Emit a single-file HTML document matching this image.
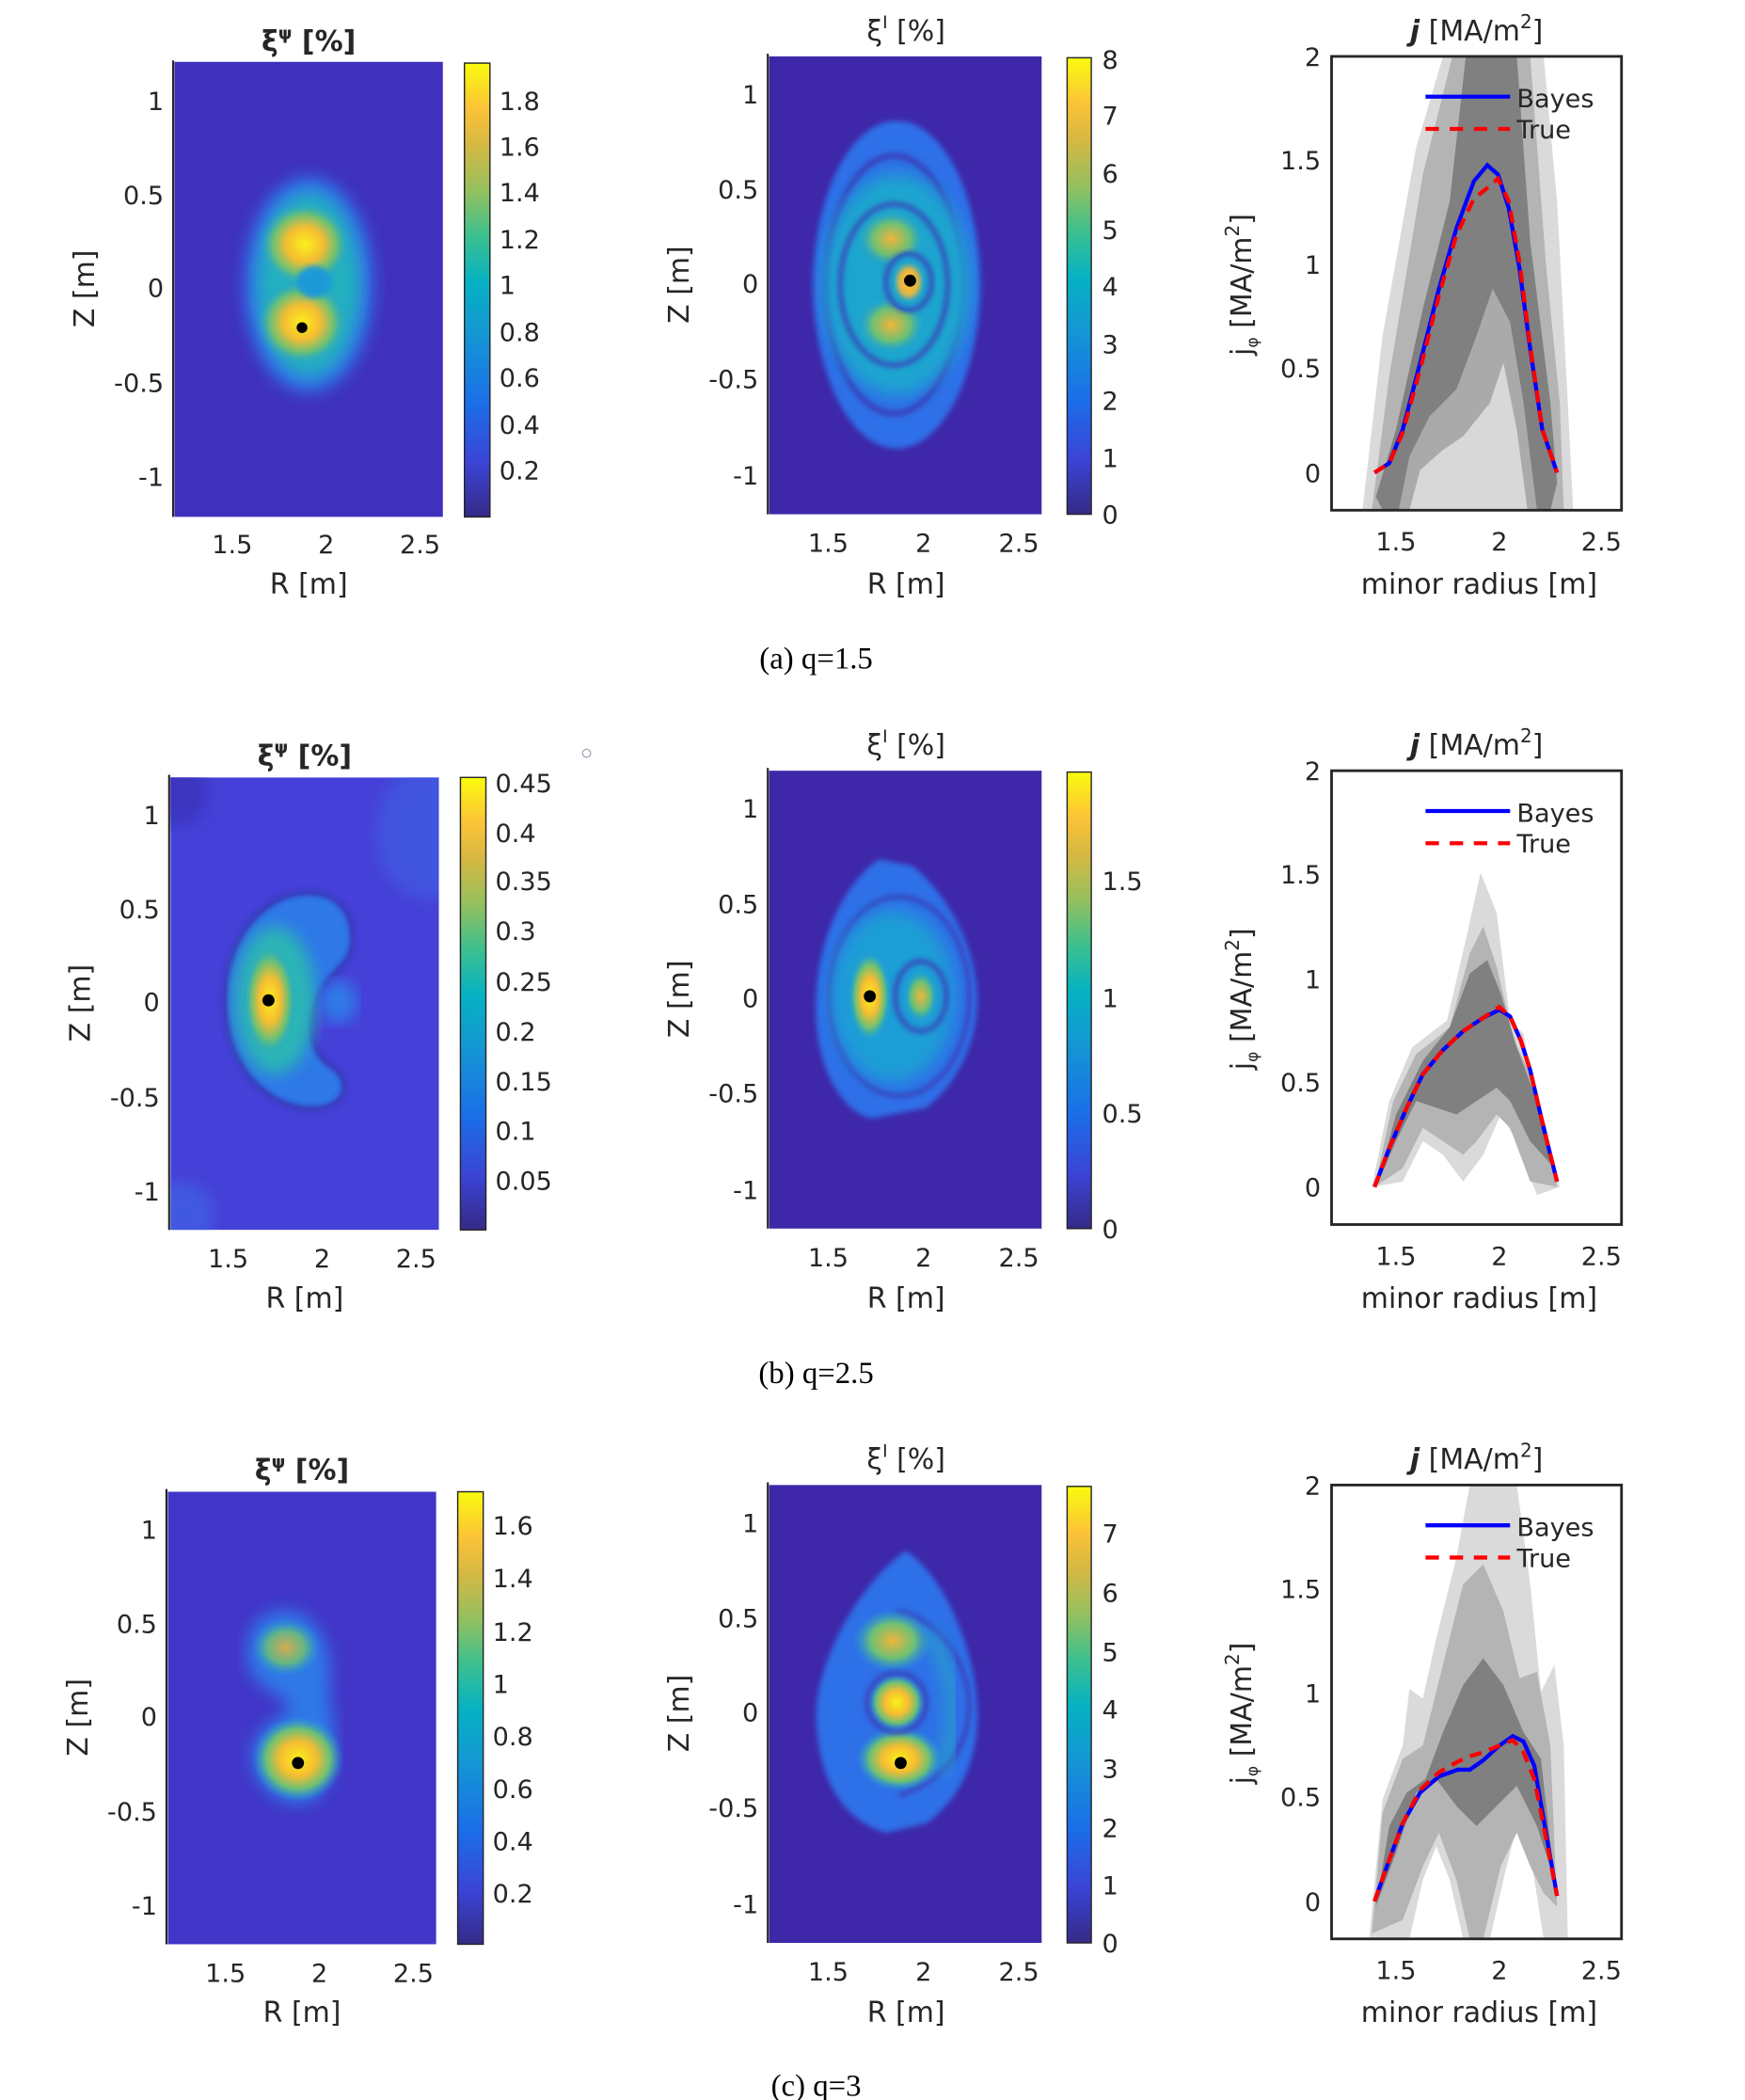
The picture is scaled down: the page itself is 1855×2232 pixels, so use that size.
<!DOCTYPE html>
<html><head><meta charset="utf-8"><style>
html,body{margin:0;padding:0;background:#fff;}
svg{display:block;}
text{font-family:"DejaVu Sans","Liberation Sans",sans-serif;fill:#262626;}
.t{font-size:19px;}
.lab{font-size:21px;}
.cap{font-family:"Liberation Serif",serif;font-size:23px;fill:#000;}
</style></head><body>
<svg width="1855" height="2232" viewBox="0 0 1300 1564" preserveAspectRatio="none" xmlns="http://www.w3.org/2000/svg">
<defs>
<linearGradient id="parula" x1="0" y1="1" x2="0" y2="0">
<stop offset="0" stop-color="#352a87"/><stop offset="0.12" stop-color="#3b44d6"/>
<stop offset="0.25" stop-color="#1b6ee8"/><stop offset="0.4" stop-color="#1496d4"/>
<stop offset="0.52" stop-color="#06b2c2"/><stop offset="0.62" stop-color="#3cc08e"/>
<stop offset="0.72" stop-color="#95c05e"/><stop offset="0.82" stop-color="#d6b842"/>
<stop offset="0.9" stop-color="#fcc337"/><stop offset="1" stop-color="#f9fb0e"/>
</linearGradient>
<radialGradient id="hot"><stop offset="0" stop-color="#f9f01a"/><stop offset="0.4" stop-color="#f5bd32"/><stop offset="0.7" stop-color="#6cc075"/><stop offset="1" stop-color="#1aa0d8" stop-opacity="0"/></radialGradient>
<radialGradient id="warm"><stop offset="0" stop-color="#f0b53a"/><stop offset="0.55" stop-color="#6cc075"/><stop offset="1" stop-color="#1a9ed6" stop-opacity="0"/></radialGradient>
<filter id="b2"><feGaussianBlur stdDeviation="2"/></filter>
<filter id="b6"><feGaussianBlur stdDeviation="6"/></filter>
<clipPath id="ca"><rect x="130" y="46" width="200" height="339"/></clipPath>
<clipPath id="cb"><rect x="127" y="579" width="200" height="337"/></clipPath>
<clipPath id="cc"><rect x="125" y="1111" width="200" height="337"/></clipPath>
</defs>

<!-- ========== ROW A ========== -->
<g>
<g clip-path="url(#ca)">
<rect x="130" y="46" width="200" height="339" fill="#3f31be"/>
<ellipse cx="230" cy="212" rx="48" ry="80" fill="#2f78e8" filter="url(#b6)"/>
<ellipse cx="230" cy="212" rx="38" ry="68" fill="#21b0bf" filter="url(#b6)"/>
<ellipse cx="227" cy="182" rx="34" ry="32" fill="url(#hot)"/>
<ellipse cx="225" cy="240" rx="34" ry="32" fill="url(#hot)"/>
<ellipse cx="234" cy="210" rx="13" ry="12" fill="#1f9ad8" filter="url(#b2)"/>
</g>
<circle cx="225" cy="244" r="4" fill="#000"/>
<line x1="129" y1="45" x2="129" y2="385" stroke="#262626" stroke-width="1.5"/>
<text x="230" y="38" text-anchor="middle" class="lab" style="font-weight:bold">ξ<tspan font-size="13" dy="-9">ψ</tspan><tspan dy="9"> [%]</tspan></text>
<g class="t" text-anchor="end"><text x="122" y="82">1</text><text x="122" y="152">0.5</text><text x="122" y="221">0</text><text x="122" y="292">-0.5</text><text x="122" y="362">-1</text></g>
<g class="t" text-anchor="middle"><text x="173" y="412">1.5</text><text x="243" y="412">2</text><text x="313" y="412">2.5</text></g>
<text x="230" y="442" text-anchor="middle" class="lab">R [m]</text>
<text transform="translate(70,215) rotate(-90)" text-anchor="middle" class="lab">Z [m]</text>
<rect x="346" y="47" width="19" height="338" fill="url(#parula)" stroke="#262626" stroke-width="1"/>
<g class="t"><text x="372" y="82">1.8</text><text x="372" y="116">1.6</text><text x="372" y="150">1.4</text><text x="372" y="185">1.2</text><text x="372" y="219">1</text><text x="372" y="254">0.8</text><text x="372" y="288">0.6</text><text x="372" y="323">0.4</text><text x="372" y="357">0.2</text></g>

<rect x="573" y="42" width="203" height="341" fill="#3e27a8"/>
<ellipse cx="668" cy="212" rx="62" ry="122" fill="#2e6fe8" filter="url(#b2)"/>
<ellipse cx="666" cy="212" rx="50" ry="96" fill="none" stroke="#3a3ab5" stroke-width="4" filter="url(#b2)"/>
<ellipse cx="668" cy="212" rx="55" ry="82" fill="#1ba5cf" filter="url(#b6)"/>
<ellipse cx="666" cy="212" rx="40" ry="60" fill="none" stroke="#3a3ab5" stroke-width="3" filter="url(#b2)"/>
<ellipse cx="664" cy="178" rx="26" ry="22" fill="url(#warm)"/>
<ellipse cx="664" cy="242" rx="26" ry="22" fill="url(#warm)"/>
<ellipse cx="677" cy="210" rx="18" ry="22" fill="#1ba5cf"/>
<ellipse cx="677" cy="210" rx="17" ry="21" fill="none" stroke="#3a3ab5" stroke-width="3" filter="url(#b2)"/>
<ellipse cx="677" cy="210" rx="9" ry="12" fill="#f2b83a" filter="url(#b2)"/>
<circle cx="678" cy="209" r="4.5" fill="#000"/>
<line x1="572" y1="40" x2="572" y2="383" stroke="#262626" stroke-width="1.5"/>
<text x="675" y="30" text-anchor="middle" class="lab">ξ<tspan font-size="13" dy="-9">I</tspan><tspan dy="9"> [%]</tspan></text>
<g class="t" text-anchor="end"><text x="565" y="77">1</text><text x="565" y="148">0.5</text><text x="565" y="218">0</text><text x="565" y="289">-0.5</text><text x="565" y="361">-1</text></g>
<g class="t" text-anchor="middle"><text x="617" y="411">1.5</text><text x="688" y="411">2</text><text x="759" y="411">2.5</text></g>
<text x="675" y="442" text-anchor="middle" class="lab">R [m]</text>
<text transform="translate(513,212) rotate(-90)" text-anchor="middle" class="lab">Z [m]</text>
<rect x="795" y="43" width="18" height="340" fill="url(#parula)" stroke="#262626" stroke-width="1"/>
<g class="t" font-size="17"><text x="821" y="51">8</text><text x="821" y="93">7</text><text x="821" y="136">6</text><text x="821" y="178">5</text><text x="821" y="220">4</text><text x="821" y="263">3</text><text x="821" y="305">2</text><text x="821" y="348">1</text><text x="821" y="390">0</text></g>

<polygon points="1015,380 1030,250 1055,110 1075,42 1150,42 1160,150 1168,300 1172,380" fill="#dadada"/>
<polygon points="1022,380 1035,280 1060,130 1082,42 1140,42 1152,200 1162,300 1165,380" fill="#b4b4b4"/>
<polygon points="1025,370 1040,320 1060,230 1080,150 1092,42 1130,42 1140,180 1155,300 1160,360 1155,380 1030,380" fill="#808080"/>
<polygon points="1042,380 1050,340 1065,310 1085,290 1100,250 1112,215 1125,240 1135,300 1145,380" fill="#aaaaaa"/>
<polygon points="1050,380 1058,350 1075,335 1090,325 1110,300 1120,270 1130,320 1138,380" fill="#d8d8d8"/>
<polyline points="1024,352 1035,345 1045,320 1058,270 1072,215 1085,170 1098,135 1108,123 1116,130 1124,155 1132,200 1140,260 1149,320 1160,352" fill="none" stroke="#0000ff" stroke-width="3"/>
<polyline points="1024,352 1035,345 1045,322 1058,275 1072,220 1085,175 1098,148 1108,140 1116,133 1124,150 1132,195 1140,258 1149,320 1160,352" fill="none" stroke="#ff0000" stroke-width="3" stroke-dasharray="9,6"/>
<rect x="992" y="42" width="216" height="338" fill="none" stroke="#262626" stroke-width="2"/>
<line x1="1062" y1="72" x2="1125" y2="72" stroke="#0000ff" stroke-width="3"/>
<line x1="1062" y1="96" x2="1125" y2="96" stroke="#ff0000" stroke-width="3" stroke-dasharray="10,8"/>
<text x="1130" y="80" class="t" font-size="17">Bayes</text><text x="1130" y="103" class="t" font-size="17">True</text>
<g class="t" text-anchor="end"><text x="984" y="49">2</text><text x="984" y="126">1.5</text><text x="984" y="204">1</text><text x="984" y="281">0.5</text><text x="984" y="359">0</text></g>
<g class="t" text-anchor="middle"><text x="1040" y="410">1.5</text><text x="1117" y="410">2</text><text x="1193" y="410">2.5</text></g>
<text x="1102" y="442" text-anchor="middle" class="lab">minor radius [m]</text>
<text x="1100" y="30" text-anchor="middle" class="lab"><tspan font-weight="bold" font-style="italic">j</tspan> [MA/m<tspan font-size="14" dy="-9">2</tspan><tspan dy="9">]</tspan></text>
<text transform="translate(932,212) rotate(-90)" text-anchor="middle" class="lab">j<tspan font-size="12" dy="5">φ</tspan><tspan dy="-5"> [MA/m</tspan><tspan font-size="14" dy="-9">2</tspan><tspan dy="9">]</tspan></text>
<text x="608" y="498" text-anchor="middle" class="cap">(a) q=1.5</text>
</g>

<!-- ========== ROW B ========== -->
<g>
<g clip-path="url(#cb)">
<rect x="127" y="579" width="200" height="337" fill="#4540d8"/>
<ellipse cx="130" cy="590" rx="25" ry="25" fill="#3a35c0" filter="url(#b6)"/>
<ellipse cx="320" cy="620" rx="40" ry="50" fill="#3f6ae6" opacity="0.5" filter="url(#b6)"/>
<ellipse cx="135" cy="905" rx="25" ry="25" fill="#3f6ae6" opacity="0.6" filter="url(#b6)"/>
<path d="M230,665 C190,665 165,710 168,750 C170,800 205,830 240,825 C258,822 262,805 248,795 C232,785 228,765 235,748 C240,728 260,720 262,705 C265,685 255,665 230,665 Z" fill="#2f78e8" filter="url(#b2)"/>
<path d="M230,665 C190,665 165,710 168,750 C170,800 205,830 240,825 C258,822 262,805 248,795 C232,785 228,765 235,748 C240,728 260,720 262,705 C265,685 255,665 230,665 Z" fill="none" stroke="#3528a0" stroke-width="2.5" filter="url(#b2)"/>
<ellipse cx="205" cy="745" rx="30" ry="55" fill="#29b5b5" filter="url(#b6)"/>
<ellipse cx="201" cy="745" rx="20" ry="42" fill="url(#hot)"/>
<ellipse cx="252" cy="746" rx="14" ry="16" fill="#2e7be8" filter="url(#b6)"/>
</g>
<circle cx="200" cy="745" r="4.5" fill="#000"/>
<line x1="126" y1="577" x2="126" y2="916" stroke="#262626" stroke-width="1.5"/>
<text x="227" y="570" text-anchor="middle" class="lab" style="font-weight:bold">ξ<tspan font-size="13" dy="-9">ψ</tspan><tspan dy="9"> [%]</tspan></text>
<circle cx="437" cy="561" r="3" fill="none" stroke="#aab" stroke-width="1"/>
<g class="t" text-anchor="end"><text x="119" y="614">1</text><text x="119" y="684">0.5</text><text x="119" y="753">0</text><text x="119" y="824">-0.5</text><text x="119" y="894">-1</text></g>
<g class="t" text-anchor="middle"><text x="170" y="944">1.5</text><text x="240" y="944">2</text><text x="310" y="944">2.5</text></g>
<text x="227" y="974" text-anchor="middle" class="lab">R [m]</text>
<text transform="translate(67,747) rotate(-90)" text-anchor="middle" class="lab">Z [m]</text>
<rect x="343" y="579" width="19" height="337" fill="url(#parula)" stroke="#262626" stroke-width="1"/>
<g class="t"><text x="369" y="590">0.45</text><text x="369" y="627">0.4</text><text x="369" y="663">0.35</text><text x="369" y="700">0.3</text><text x="369" y="738">0.25</text><text x="369" y="775">0.2</text><text x="369" y="812">0.15</text><text x="369" y="849">0.1</text><text x="369" y="886">0.05</text></g>

<rect x="573" y="574" width="203" height="341" fill="#3e27a8"/>
<path d="M655,640 C625,660 605,710 608,760 C610,800 630,830 650,833 L690,825 C715,805 728,775 728,745 C728,710 710,670 680,645 Z" fill="#2e6fe8" filter="url(#b2)"/>
<ellipse cx="670" cy="742" rx="52" ry="74" fill="none" stroke="#3a3ab5" stroke-width="3" filter="url(#b2)"/>
<ellipse cx="665" cy="742" rx="46" ry="64" fill="#1f9ed6" filter="url(#b6)"/>
<ellipse cx="648" cy="742" rx="16" ry="34" fill="url(#hot)"/>
<ellipse cx="686" cy="742" rx="19" ry="26" fill="none" stroke="#3a3ab5" stroke-width="3" filter="url(#b2)"/>
<ellipse cx="686" cy="742" rx="13" ry="20" fill="url(#warm)"/>
<circle cx="648" cy="742" r="4.5" fill="#000"/>
<line x1="572" y1="572" x2="572" y2="915" stroke="#262626" stroke-width="1.5"/>
<text x="675" y="562" text-anchor="middle" class="lab">ξ<tspan font-size="13" dy="-9">I</tspan><tspan dy="9"> [%]</tspan></text>
<g class="t" text-anchor="end"><text x="565" y="609">1</text><text x="565" y="680">0.5</text><text x="565" y="750">0</text><text x="565" y="821">-0.5</text><text x="565" y="893">-1</text></g>
<g class="t" text-anchor="middle"><text x="617" y="943">1.5</text><text x="688" y="943">2</text><text x="759" y="943">2.5</text></g>
<text x="675" y="974" text-anchor="middle" class="lab">R [m]</text>
<text transform="translate(513,744) rotate(-90)" text-anchor="middle" class="lab">Z [m]</text>
<rect x="795" y="575" width="18" height="340" fill="url(#parula)" stroke="#262626" stroke-width="1"/>
<g class="t" font-size="17"><text x="821" y="663">1.5</text><text x="821" y="750">1</text><text x="821" y="836">0.5</text><text x="821" y="922">0</text></g>

<polygon points="1022,884 1035,820 1052,780 1065,770 1078,760 1092,700 1103,650 1115,680 1125,760 1135,770 1145,820 1162,884 1145,890 1130,850 1118,830 1105,860 1090,880 1075,860 1060,850 1045,880" fill="#dadada"/>
<polygon points="1024,884 1038,820 1055,785 1068,775 1080,765 1095,710 1105,690 1115,720 1128,775 1140,800 1152,840 1160,884 1140,880 1125,840 1115,830 1100,850 1090,860 1075,850 1060,840 1045,870" fill="#b4b4b4"/>
<polygon points="1026,882 1040,830 1060,790 1080,765 1095,725 1108,715 1118,740 1130,780 1145,820 1158,870 1140,850 1125,820 1115,810 1100,820 1085,830 1070,825 1055,820 1040,850" fill="#808080"/>
<polyline points="1024,884 1035,855 1048,825 1060,800 1075,782 1090,768 1105,758 1117,752 1125,757 1133,775 1140,797 1150,840 1160,880" fill="none" stroke="#0000ff" stroke-width="3"/>
<polyline points="1024,884 1035,855 1048,825 1060,800 1075,782 1090,768 1105,758 1117,750 1125,757 1133,775 1140,797 1150,840 1160,880" fill="none" stroke="#ff0000" stroke-width="3" stroke-dasharray="9,6"/>
<rect x="992" y="574" width="216" height="338" fill="none" stroke="#262626" stroke-width="2"/>
<line x1="1062" y1="604" x2="1125" y2="604" stroke="#0000ff" stroke-width="3"/>
<line x1="1062" y1="628" x2="1125" y2="628" stroke="#ff0000" stroke-width="3" stroke-dasharray="10,8"/>
<text x="1130" y="612" class="t" font-size="17">Bayes</text><text x="1130" y="635" class="t" font-size="17">True</text>
<g class="t" text-anchor="end"><text x="984" y="581">2</text><text x="984" y="658">1.5</text><text x="984" y="736">1</text><text x="984" y="813">0.5</text><text x="984" y="891">0</text></g>
<g class="t" text-anchor="middle"><text x="1040" y="942">1.5</text><text x="1117" y="942">2</text><text x="1193" y="942">2.5</text></g>
<text x="1102" y="974" text-anchor="middle" class="lab">minor radius [m]</text>
<text x="1100" y="562" text-anchor="middle" class="lab"><tspan font-weight="bold" font-style="italic">j</tspan> [MA/m<tspan font-size="14" dy="-9">2</tspan><tspan dy="9">]</tspan></text>
<text transform="translate(932,744) rotate(-90)" text-anchor="middle" class="lab">j<tspan font-size="12" dy="5">φ</tspan><tspan dy="-5"> [MA/m</tspan><tspan font-size="14" dy="-9">2</tspan><tspan dy="9">]</tspan></text>
<text x="608" y="1030" text-anchor="middle" class="cap">(b) q=2.5</text>
</g>

<!-- ========== ROW C ========== -->
<g>
<g clip-path="url(#cc)">
<rect x="125" y="1111" width="200" height="337" fill="#4136c8"/>
<path d="M205,1200 C235,1195 250,1225 245,1260 C250,1290 255,1320 235,1340 C215,1350 190,1335 188,1310 C186,1290 205,1280 215,1275 C215,1260 190,1260 185,1240 C182,1215 190,1205 205,1200 Z" fill="#2f78e8" filter="url(#b6)"/>
<ellipse cx="213" cy="1227" rx="26" ry="22" fill="url(#warm)" opacity="0.85"/>
<ellipse cx="222" cy="1310" rx="34" ry="32" fill="url(#hot)"/>
</g>
<circle cx="222" cy="1313" r="4.5" fill="#000"/>
<line x1="124" y1="1109" x2="124" y2="1448" stroke="#262626" stroke-width="1.5"/>
<text x="225" y="1102" text-anchor="middle" class="lab" style="font-weight:bold">ξ<tspan font-size="13" dy="-9">ψ</tspan><tspan dy="9"> [%]</tspan></text>
<g class="t" text-anchor="end"><text x="117" y="1146">1</text><text x="117" y="1216">0.5</text><text x="117" y="1285">0</text><text x="117" y="1356">-0.5</text><text x="117" y="1426">-1</text></g>
<g class="t" text-anchor="middle"><text x="168" y="1476">1.5</text><text x="238" y="1476">2</text><text x="308" y="1476">2.5</text></g>
<text x="225" y="1506" text-anchor="middle" class="lab">R [m]</text>
<text transform="translate(65,1279) rotate(-90)" text-anchor="middle" class="lab">Z [m]</text>
<rect x="341" y="1111" width="19" height="337" fill="url(#parula)" stroke="#262626" stroke-width="1"/>
<g class="t"><text x="367" y="1143">1.6</text><text x="367" y="1182">1.4</text><text x="367" y="1222">1.2</text><text x="367" y="1261">1</text><text x="367" y="1300">0.8</text><text x="367" y="1339">0.6</text><text x="367" y="1378">0.4</text><text x="367" y="1417">0.2</text></g>

<rect x="573" y="1106" width="203" height="341" fill="#3e27a8"/>
<path d="M675,1155 C645,1175 610,1230 608,1275 C608,1320 625,1355 660,1365 L690,1358 C715,1340 730,1310 728,1270 C726,1230 705,1175 675,1155 Z" fill="#2e6fe8" filter="url(#b2)"/>
<path d="M668,1200 C700,1205 722,1240 722,1270 C722,1300 705,1325 670,1337" fill="none" stroke="#3a3ab5" stroke-width="3" filter="url(#b2)"/>
<path d="M690,1215 C712,1240 716,1290 700,1320" fill="none" stroke="#25a0c8" stroke-width="9" filter="url(#b6)"/>
<ellipse cx="665" cy="1222" rx="30" ry="24" fill="url(#warm)"/>
<ellipse cx="668" cy="1268" rx="22" ry="22" fill="url(#hot)"/>
<ellipse cx="670" cy="1310" rx="32" ry="24" fill="url(#hot)"/>
<ellipse cx="668" cy="1268" rx="22" ry="22" fill="none" stroke="#3a3ab5" stroke-width="3" filter="url(#b2)"/>
<circle cx="671" cy="1313" r="4.5" fill="#000"/>
<line x1="572" y1="1104" x2="572" y2="1447" stroke="#262626" stroke-width="1.5"/>
<text x="675" y="1094" text-anchor="middle" class="lab">ξ<tspan font-size="13" dy="-9">I</tspan><tspan dy="9"> [%]</tspan></text>
<g class="t" text-anchor="end"><text x="565" y="1141">1</text><text x="565" y="1212">0.5</text><text x="565" y="1282">0</text><text x="565" y="1353">-0.5</text><text x="565" y="1425">-1</text></g>
<g class="t" text-anchor="middle"><text x="617" y="1475">1.5</text><text x="688" y="1475">2</text><text x="759" y="1475">2.5</text></g>
<text x="675" y="1506" text-anchor="middle" class="lab">R [m]</text>
<text transform="translate(513,1276) rotate(-90)" text-anchor="middle" class="lab">Z [m]</text>
<rect x="795" y="1107" width="18" height="340" fill="url(#parula)" stroke="#262626" stroke-width="1"/>
<g class="t" font-size="17"><text x="821" y="1149">7</text><text x="821" y="1193">6</text><text x="821" y="1237">5</text><text x="821" y="1280">4</text><text x="821" y="1324">3</text><text x="821" y="1368">2</text><text x="821" y="1411">1</text><text x="821" y="1454">0</text></g>

<polygon points="1020,1444 1030,1340 1045,1300 1050,1258 1060,1265 1070,1220 1085,1160 1095,1106 1130,1106 1140,1180 1148,1260 1158,1240 1165,1300 1168,1444 1150,1444 1140,1380 1130,1360 1120,1400 1110,1444 1090,1444 1080,1400 1070,1375 1060,1400 1050,1444" fill="#dadada"/>
<polygon points="1022,1440 1030,1350 1045,1310 1060,1300 1075,1240 1090,1180 1105,1165 1120,1200 1132,1250 1145,1245 1155,1300 1160,1420 1150,1410 1140,1390 1130,1365 1118,1390 1105,1444 1095,1444 1085,1400 1072,1365 1060,1390 1045,1430" fill="#b4b4b4"/>
<polygon points="1025,1420 1035,1360 1048,1335 1062,1325 1075,1290 1090,1255 1105,1235 1120,1255 1135,1290 1148,1310 1158,1400 1145,1360 1130,1330 1115,1345 1100,1360 1085,1345 1070,1325 1055,1335 1040,1380" fill="#808080"/>
<polyline points="1024,1416 1035,1385 1045,1358 1058,1335 1072,1323 1086,1318 1095,1318 1105,1311 1117,1300 1127,1293 1135,1297 1143,1315 1150,1355 1160,1412" fill="none" stroke="#0000ff" stroke-width="3"/>
<polyline points="1024,1416 1035,1385 1045,1358 1058,1333 1072,1320 1086,1312 1095,1308 1105,1305 1117,1300 1127,1296 1135,1305 1143,1325 1150,1360 1160,1412" fill="none" stroke="#ff0000" stroke-width="3" stroke-dasharray="9,6"/>
<rect x="992" y="1106" width="216" height="338" fill="none" stroke="#262626" stroke-width="2"/>
<line x1="1062" y1="1136" x2="1125" y2="1136" stroke="#0000ff" stroke-width="3"/>
<line x1="1062" y1="1160" x2="1125" y2="1160" stroke="#ff0000" stroke-width="3" stroke-dasharray="10,8"/>
<text x="1130" y="1144" class="t" font-size="17">Bayes</text><text x="1130" y="1167" class="t" font-size="17">True</text>
<g class="t" text-anchor="end"><text x="984" y="1113">2</text><text x="984" y="1190">1.5</text><text x="984" y="1268">1</text><text x="984" y="1345">0.5</text><text x="984" y="1423">0</text></g>
<g class="t" text-anchor="middle"><text x="1040" y="1474">1.5</text><text x="1117" y="1474">2</text><text x="1193" y="1474">2.5</text></g>
<text x="1102" y="1506" text-anchor="middle" class="lab">minor radius [m]</text>
<text x="1100" y="1094" text-anchor="middle" class="lab"><tspan font-weight="bold" font-style="italic">j</tspan> [MA/m<tspan font-size="14" dy="-9">2</tspan><tspan dy="9">]</tspan></text>
<text transform="translate(932,1276) rotate(-90)" text-anchor="middle" class="lab">j<tspan font-size="12" dy="5">φ</tspan><tspan dy="-5"> [MA/m</tspan><tspan font-size="14" dy="-9">2</tspan><tspan dy="9">]</tspan></text>
<text x="608" y="1561" text-anchor="middle" class="cap">(c) q=3</text>
</g>
</svg>
</body></html>
